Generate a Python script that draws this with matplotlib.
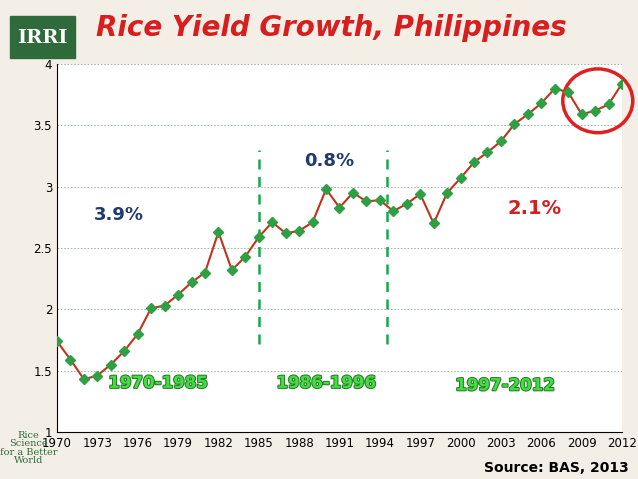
import matplotlib
matplotlib.use("Agg")
import matplotlib.pyplot as plt
import matplotlib.patheffects as pe
from matplotlib.patches import Ellipse

years = list(range(1970, 2013))
yields = [1.74,1.59,1.43,1.46,1.55,1.66,1.80,2.01,2.03,2.12,2.22,2.30,2.63,2.32,2.43,2.59,
          2.71,2.62,2.64,2.71,2.98,2.83,2.95,2.88,2.89,2.80,2.86,2.94,2.70,2.95,3.07,3.20,
          3.28,3.37,3.51,3.59,3.68,3.80,3.77,3.59,3.62,3.67,3.84]
tick_years = list(range(1970, 2013, 3))
yticks = [1, 1.5, 2, 2.5, 3, 3.5, 4]
period_labels = ["1970-1985", "1986-1996", "1997-2012"]
growth_labels = ["3.9%", "0.8%", "2.1%"]

fig = plt.figure(figsize=(6.38, 4.79), dpi=100)
fig.patch.set_facecolor("#f3efe6")
ax = fig.add_axes([57/638, 1-432/479, 565/638, 368/479])
ax.set_facecolor("white")
ax.plot(years, yields, color="#c0341d", lw=1.5, marker="D", ms=5,
        mfc="#2ea043", mec="#2ea043", zorder=3)
ax.set_xlim(1970, 2012)
ax.set_ylim(1, 4)
ax.set_xticks(tick_years)
ax.set_xticklabels([str(y) for y in tick_years], fontsize=8.5)
ax.set_yticks(yticks)
ax.set_yticklabels(["1", "1.5", "2", "2.5", "3", "3.5", "4"], fontsize=8.5)
for y in yticks[1:]:
    ax.axhline(y, color="#8fb08f", lw=0.6, ls=(0, (2, 2)), zorder=1)
for s in ["top", "right"]:
    ax.spines[s].set_visible(False)
ax.tick_params(length=0)

for xv in [1985.0, 1994.5]:
    ax.plot([xv, xv], [1.72, 3.3], color="#18a84a", lw=1.8, ls=(0, (4, 3)))

fx = [pe.withStroke(linewidth=1.5, foreground="#2a7a2a")]
ax.text(1977.5, 1.36, period_labels[0], color="#44dd44", fontsize=12, fontweight="bold", ha="center", path_effects=fx)
ax.text(1990.0, 1.36, period_labels[1], color="#44dd44", fontsize=12, fontweight="bold", ha="center", path_effects=fx)
ax.text(2003.3, 1.34, period_labels[2], color="#44dd44", fontsize=12, fontweight="bold", ha="center", path_effects=fx)
ax.text(1972.7, 2.73, growth_labels[0], color="#1f3a6e", fontsize=13, fontweight="bold")
ax.text(1988.4, 3.17, growth_labels[1], color="#1f3a6e", fontsize=13, fontweight="bold")
ax.text(2003.5, 2.78, growth_labels[2], color="#d42020", fontsize=14, fontweight="bold")

ax.add_patch(Ellipse((2010.2, 3.7), 5.2, 0.52, fill=False, ec="#e02020", lw=2.5, clip_on=False))

fig.text(0.15, 0.925, "Rice Yield Growth, Philippines", color="#d81e1e", fontsize=20,
         fontweight="bold", style="italic")
fig.patches.append(plt.Rectangle((10/638, 1-58/479), 65/638, 42/479, transform=fig.transFigure,
                                 color="#2f6b3a"))
fig.text(42/638, 1-38/479, "IRRI", color="white", fontsize=14, fontweight="bold",
         ha="center", va="center", family="serif")
fig.text(0.985, 0.015, "Source: BAS, 2013", fontsize=10, fontweight="bold", ha="right")
fig.text(0.045, 0.065, "Rice\nScience\nfor a Better\nWorld", color="#2f6b3a", fontsize=7,
         ha="center", va="center", family="serif", linespacing=0.9)
fig.savefig("out.png", dpi=100, facecolor=fig.get_facecolor())
